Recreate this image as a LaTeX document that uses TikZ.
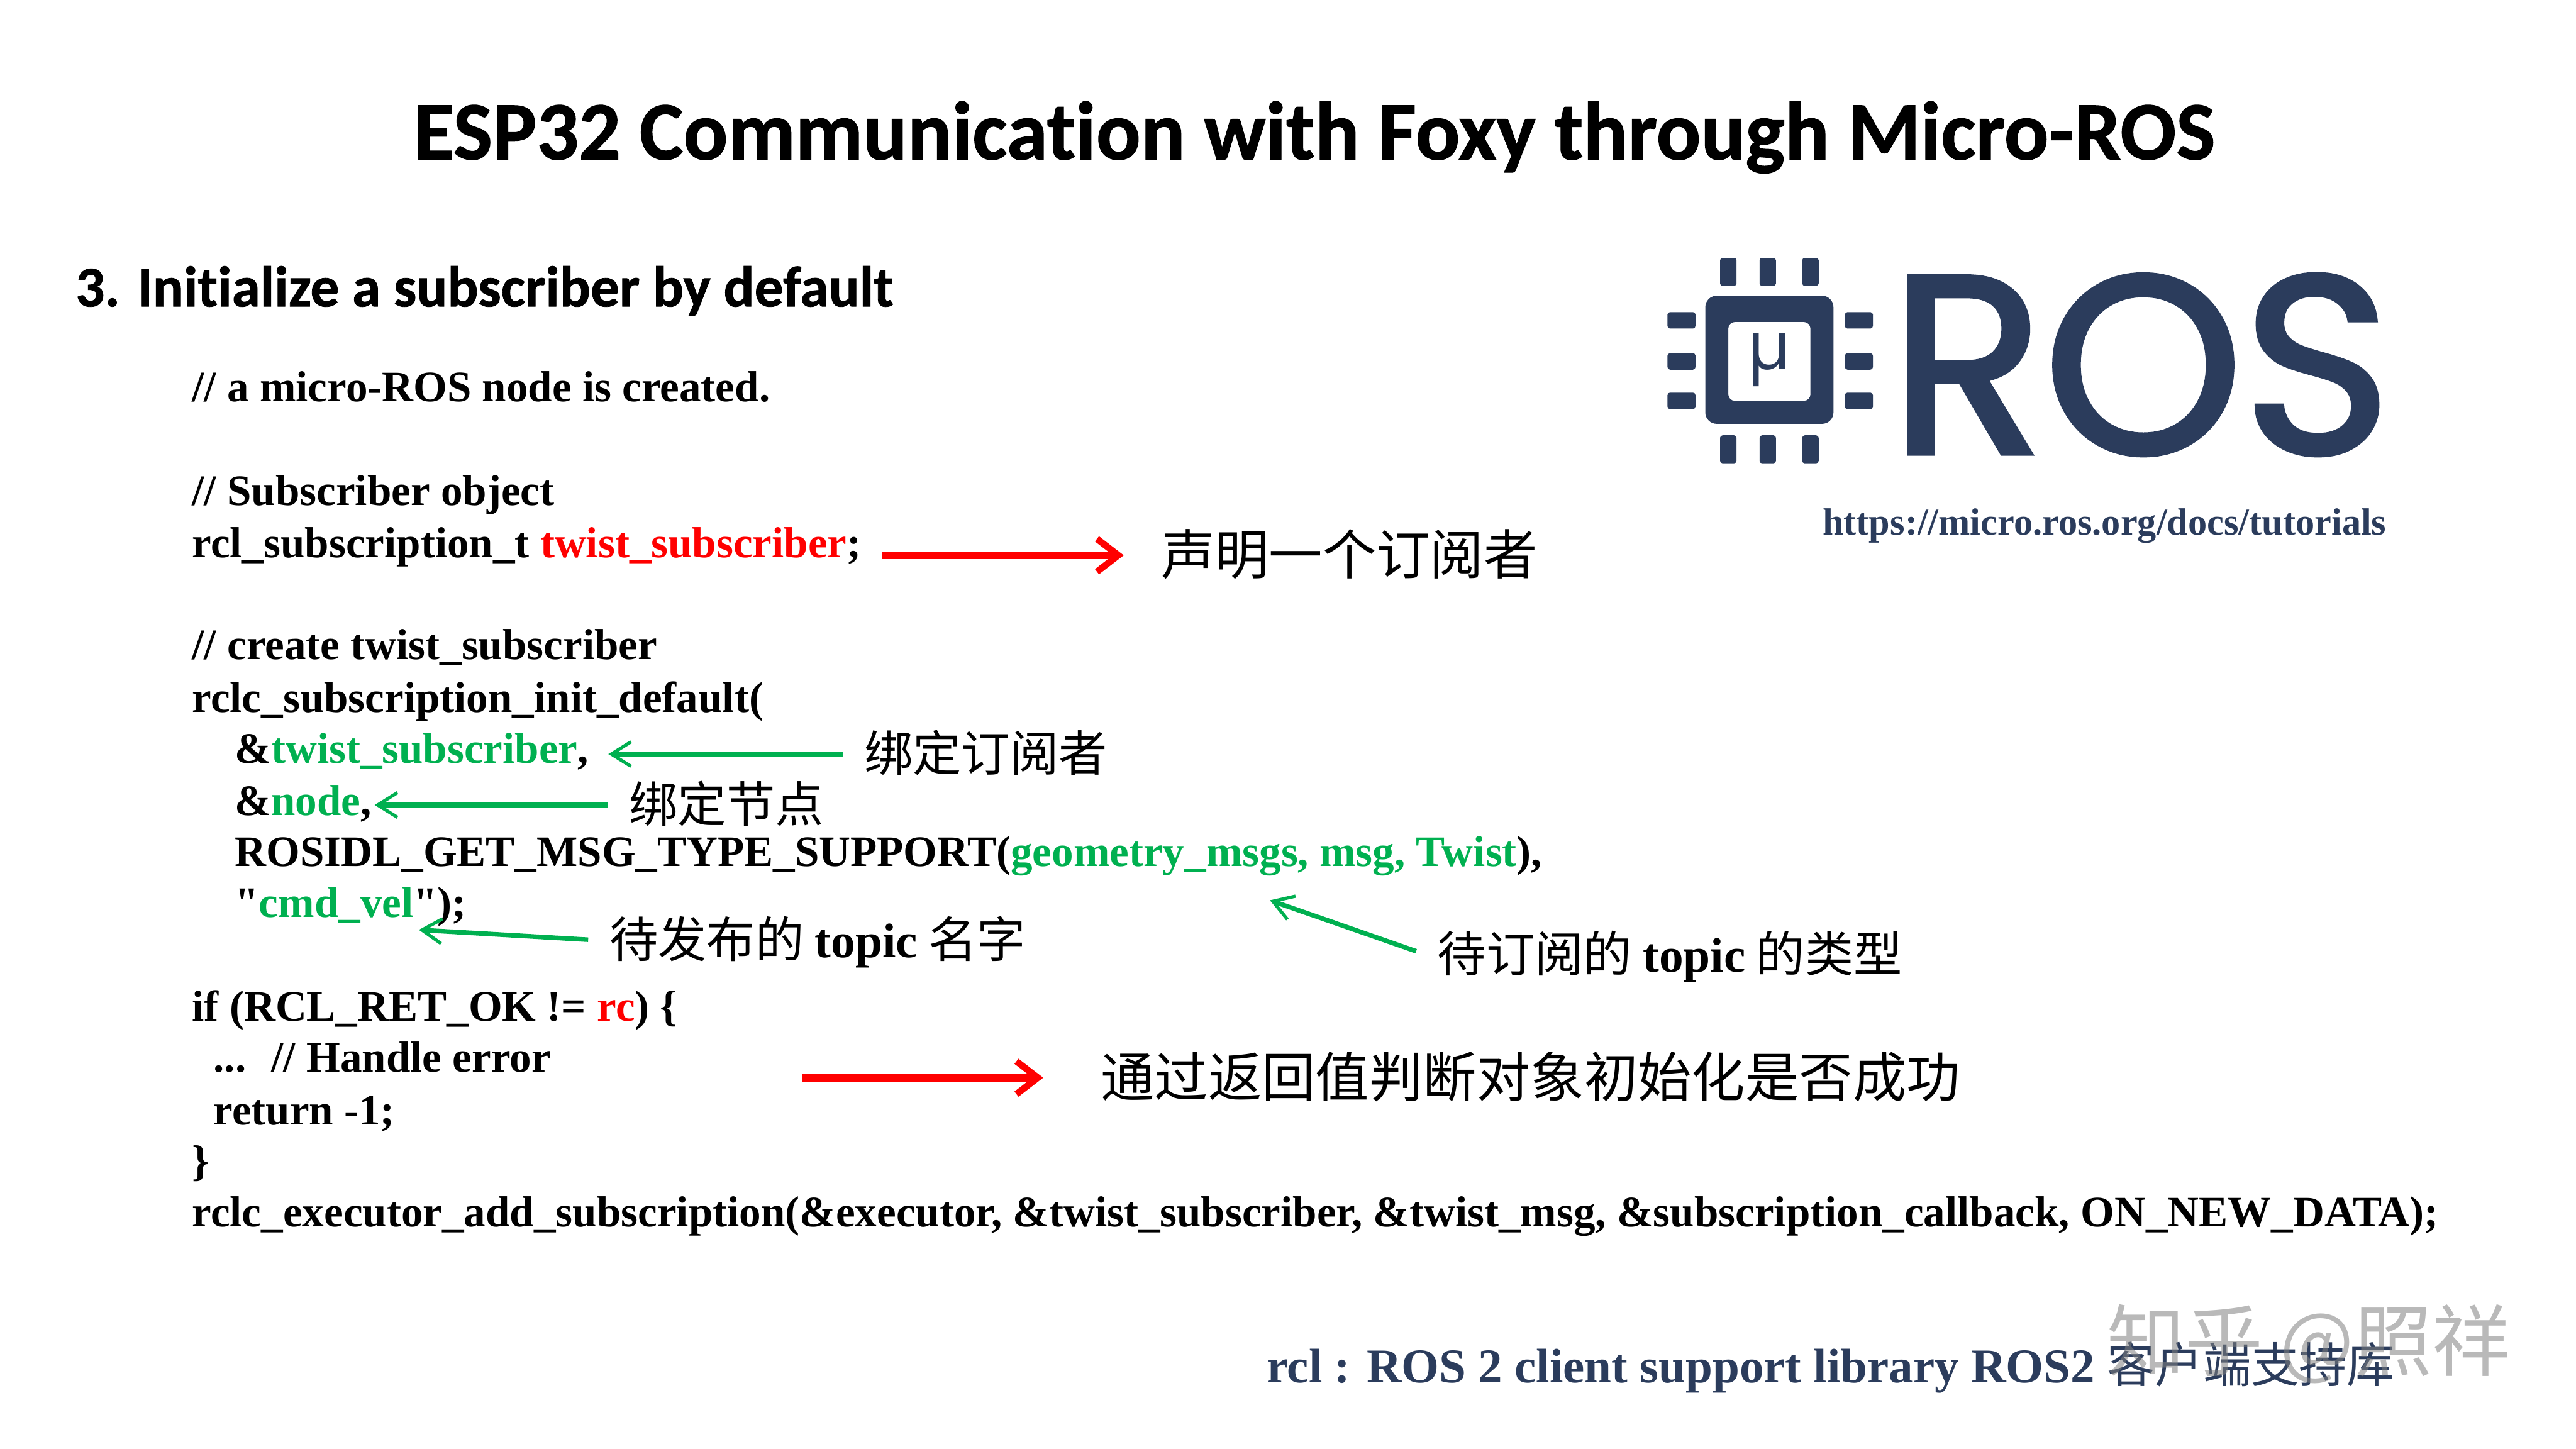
\documentclass[tikz,border=0pt]{standalone}
\usepackage{fontspec}
\setmainfont{Liberation Serif}
\newfontfamily\codefont{Liberation Serif}
\newfontfamily\cjkfont{Noto Sans CJK SC}
\newfontfamily\headfont[Ligatures=NoCommon,FakeBold=0.9]{Carlito}
\newfontfamily\logofont[FakeBold=2]{Poppins}
\newfontfamily\mufont{Poppins}
\usetikzlibrary{arrows.meta}
\definecolor{ROSBlue}{RGB}{43,60,92}
\definecolor{CodeGreen}{RGB}{0,176,80}
\definecolor{CodeRed}{RGB}{255,0,0}
\newcommand{\tw}[1]{\textcolor{CodeGreen}{#1}}
\newcommand{\tr}[1]{\textcolor{CodeRed}{#1}}
\begin{document}
\begin{tikzpicture}[x=1pt,y=-1pt,inner sep=0pt,outer sep=0pt,
  code/.style={anchor=west,font=\fontsize{26.45}{26.45}\selectfont\codefont\bfseries,text height=22,text depth=5},
  note/.style={anchor=west,font=\fontsize{#1}{#1}\selectfont\cjkfont,text height=0.85*#1,text depth=0.13*#1},
  redarrow/.style={draw=CodeRed,line width=4.6pt,-{Straight Barb[length=13pt,width=20pt,line width=4pt]}},
  grnarrow/.style={draw=CodeGreen,line width=2.8pt,-{Straight Barb[length=12pt,width=15pt,line width=2pt]}},
  pin/.style={fill=ROSBlue,rounded corners=1.5pt}]
\useasboundingbox (0,0) rectangle (1568,882);
\node[font=\fontsize{50.5}{50.5}\selectfont\headfont\bfseries,text height=39,text depth=5] (title) at (800,80) {ESP32 Communication with Foxy through Micro-ROS};
\node[anchor=west,font=\fontsize{35}{35}\selectfont\headfont\bfseries,text height=28,text depth=5] (heading) at (46,175) {3. Initialize a subscriber by default};
\node[code] (l1) at (117,236) {// a micro-ROS node is created.};
\node[code] (l2) at (117,299) {// Subscriber object};
\node[code] (l3) at (117,331) {rcl\_subscription\_t \tr{twist\_subscriber};};
\node[code] (l4) at (117,393) {// create twist\_subscriber};
\node[code] (l5) at (117,425) {rclc\_subscription\_init\_default(};
\node[code] (l6) at (143,456) {\&\tw{twist\_subscriber},};
\node[code] (l7) at (143,488) {\&\tw{node},};
\node[code] (l8) at (143,519) {ROSIDL\_GET\_MSG\_TYPE\_SUPPORT(\tw{geometry\_msgs, msg, Twist}),};
\node[code] (l9) at (143,550) {"\tw{cmd\_vel}");};
\node[code] (l10) at (117,613) {if (RCL\_RET\_OK != \tr{rc}) \{};
\node[code] (l11) at (130,644) {...~ // Handle error};
\node[code] (l12) at (130,676) {return -1;};
\node[code] (l13) at (117,707) {\}};
\node[code] (l14) at (117,738) {rclc\_executor\_add\_subscription(\&executor, \&twist\_subscriber, \&twist\_msg, \&subscription\_callback, ON\_NEW\_DATA);};
\node[note=32.7] (n1) at (707,338) {声明一个订阅者};
\node[note=29.6] (n2) at (526,459) {绑定订阅者};
\node[note=29.6] (n3) at (383,490) {绑定节点};
\node[note=29.6] (n4) at (371,572) {待发布的 {\codefont\bfseries topic} 名字};
\node[note=29.6] (n5) at (875,581) {待订阅的 {\codefont\bfseries topic} 的类型};
\node[note=32.7] (n6) at (670,656) {通过返回值判断对象初始化是否成功};
\coordinate (a1) at (537,338);
\coordinate (a6) at (488,656);
\coordinate (t4) at (255,566);
\coordinate (t5) at (773,548);
\draw[redarrow] (a1) -- ([xshift=-23]n1.west);
\draw[grnarrow] ([xshift=-13]n2.west) -- ([xshift=12]l6.east |- n2.west);
\draw[grnarrow] ([xshift=-13]n3.west) -- ([xshift=2]l7.east |- n3.west);
\draw[grnarrow] ([xshift=-13]n4.west) -- (t4);
\draw[grnarrow] ([xshift=-13,yshift=2]n5.west) -- (t5);
\draw[redarrow] (a6) -- ([xshift=-35]n6.west);
% logo
\fill[ROSBlue,rounded corners=7pt,even odd rule] (1038,180) rectangle (1116,258)
  [rounded corners=4pt] (1052,196) rectangle (1102,244);
\foreach \x in {1047,1071,1097} {
  \fill[pin] (\x,157) rectangle +(10,17);
  \fill[pin] (\x,265) rectangle +(10,17);
}
\foreach \y in {190,215,239} {
  \fill[pin] (1015,\y) rectangle +(17,10);
  \fill[pin] (1123,\y) rectangle +(17,10);
}
\node[text=ROSBlue,font=\fontsize{40}{40}\selectfont\mufont] (mu) at (1077,219) {µ};
\node[text=ROSBlue,font=\fontsize{154}{154}\selectfont\logofont] (ros) at (1303,222) {ROS};
\node[text=ROSBlue,font=\fontsize{23.1}{23.1}\selectfont\codefont\bfseries,text height=18,text depth=3] (url) at (1281,318) {https://micro.ros.org/docs/tutorials};
\node[anchor=west,text=ROSBlue,font=\fontsize{29.5}{29.5}\selectfont\codefont\bfseries,text height=23,text depth=6] (foot) at (771,833) {rcl : ROS 2 client support library ROS2 {\cjkfont\mdseries\fontsize{29.2}{29.2}\selectfont 客户端支持库}};
\node[anchor=east,text=gray,opacity=0.55,font=\fontsize{47.5}{47.5}\selectfont\cjkfont] (mark) at (1528,818) {知乎 @照祥};
\end{tikzpicture}
\end{document}
